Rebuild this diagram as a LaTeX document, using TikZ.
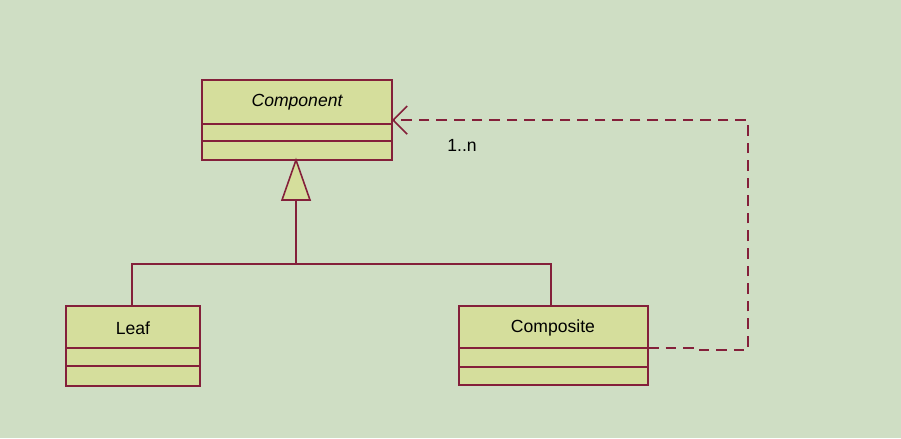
\documentclass[tikz,border=0pt]{standalone}
\usepackage{fontspec}
\setmainfont{Liberation Sans}
\usetikzlibrary{arrows.meta}
\definecolor{bg}{HTML}{CFDEC4}
\definecolor{boxf}{HTML}{D5DE9C}
\definecolor{ln}{HTML}{84203A}
\tikzset{cls/.style={draw=ln,fill=boxf,line width=0.45pt},
 wire/.style={draw=ln,line width=0.45pt},
 lbl/.style={font=\fontsize{5}{6}\selectfont,inner sep=0pt}}
\begin{document}
\begin{tikzpicture}[x=0.01cm,y=-0.01cm]
\fill[bg] (0,0) rectangle (901,438);
\useasboundingbox (0,0) rectangle (901,438);
% Component
\draw[cls] (202,80) rectangle (392,160);
\draw[wire] (202,124)--(392,124) (202,141)--(392,141);
\node[lbl] (comp) at (297,102) {\itshape Component};
\coordinate (compR) at (392,120);
\coordinate (compB) at (296,160);
% Leaf
\draw[cls] (66,306) rectangle (200,386);
\draw[wire] (66,348)--(200,348) (66,366)--(200,366);
\node[lbl] (leaf) at (133,328) {Leaf};
% Composite
\draw[cls] (459,306) rectangle (648,385);
\draw[wire] (459,348)--(648,348) (459,367)--(648,367);
\node[lbl] (compo) at (553,328) {Composite};
\coordinate (compoR) at (648,348);
% inheritance
\draw[wire,fill=boxf] (compB)--(282,200)--(310,200)--cycle;
\coordinate (tri) at (296,200);
\draw[wire] (tri)--(296,264) (132,306)--(132,264)--(551,264)--(551,306);
% dependency
\draw[wire,dashed,dash pattern=on 3pt off 2pt,-{Straight Barb[length=4pt,width=8pt]}]
 (compoR)--(700,348)--(700,350)--(748,350)--(748,120)--(compR);
\node[lbl] (mult) at (462,145) {1..n};
\end{tikzpicture}
\end{document}
